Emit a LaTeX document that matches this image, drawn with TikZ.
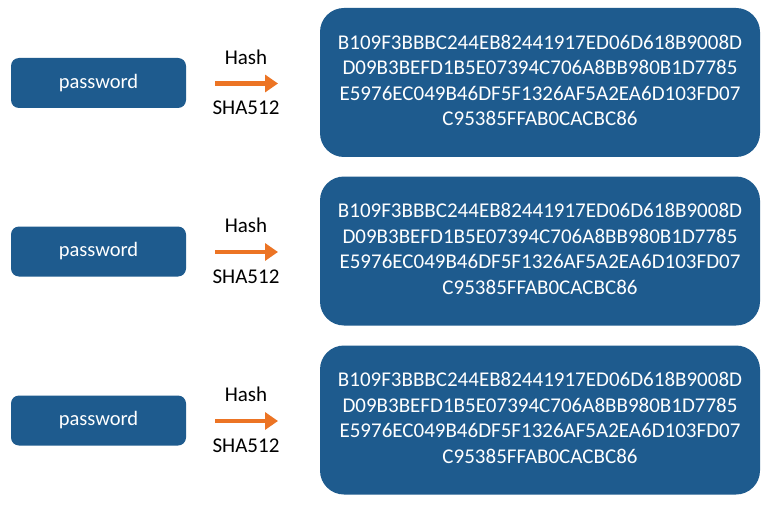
\documentclass[tikz,border=0pt]{standalone}
\usepackage{fontspec}
\setmainfont{Carlito}
\usetikzlibrary{arrows.meta}
\definecolor{boxblue}{HTML}{1E5B8E}
\definecolor{arrorange}{HTML}{EC7424}
\tikzset{
  pwbox/.style={draw=none, fill=boxblue, rounded corners=8pt, minimum width=175pt, minimum height=50pt, text=white, font=\fontsize{20.5}{24}\selectfont, inner sep=0pt},
  hashbox/.style={draw=none, fill=boxblue, rounded corners=24pt, minimum width=440pt, minimum height=149pt, text=white, align=center, font=\fontsize{21}{25.5}\selectfont, inner sep=0pt},
  lbl/.style={font=\fontsize{21}{24}\selectfont, text=black, inner sep=0pt},
  harrow/.style={draw=arrorange, line width=4.5pt, -{Triangle[length=13pt,width=17pt]}}
}
\begin{document}
\begin{tikzpicture}[x=1pt,y=-1pt]
\useasboundingbox[fill=white] (0,0) rectangle (770,505);
\foreach \i/\dy in {1/0,2/168.5,3/337.5}{
  \node[pwbox] (pw\i) at (98.5,83+\dy) {\raisebox{-1.5pt}{password}};
  \node[hashbox] (h\i) at (540,82.5+\dy) {\raisebox{-1.5pt}{\begin{tabular}{@{}c@{}}B109F3BBBC244EB82441917ED06D618B9008D\\D09B3BEFD1B5E07394C706A8BB980B1D7785\\E5976EC049B46DF5F1326AF5A2EA6D103FD07\\C95385FFAB0CACBC86\end{tabular}}};
  \node[lbl] (hl\i) at (246,57+\dy) {Hash};
  \node[lbl] (sl\i) at (246,108+\dy) {SHA512};
  \coordinate (as\i) at (215,83.5+\dy);
  \coordinate (ae\i) at (278,83.5+\dy);
  \draw[harrow] (as\i) -- (ae\i);
}
\end{tikzpicture}
\end{document}
